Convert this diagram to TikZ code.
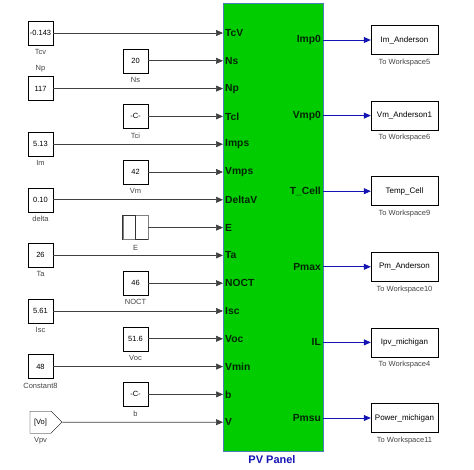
\documentclass[tikz,border=0pt]{standalone}
\usepackage{fontspec}
\setmainfont{Liberation Sans}
\usetikzlibrary{positioning,arrows.meta,shapes.symbols}
\definecolor{slGreen}{HTML}{00CC00}
\definecolor{slBlue}{HTML}{1414B4}
\definecolor{slGray}{HTML}{444444}
\definecolor{slEdge}{HTML}{4A7FB5}

\begin{document}
\begin{tikzpicture}[x=1pt,y=-1pt,font=\fontsize{7.5}{9}\selectfont,
        srcbox/.style={draw=black,fill=white,minimum width=25pt,minimum height=24pt,inner sep=0pt},
        wsbox/.style={draw=black,fill=white,minimum width=67pt,minimum height=29pt,inner sep=0pt,font=\fontsize{8}{10}\selectfont},
        blkname/.style={text=slGray,inner sep=0pt},
        port/.style={font=\fontsize{10.3}{12}\selectfont\bfseries,text=black!85!green,inner sep=2pt},
        sig/.style={draw=black!75,line width=0.7pt,-{Triangle[length=7pt,width=6pt]}},
        outsig/.style={draw=slBlue,line width=0.8pt,-{Triangle[length=7pt,width=6pt]}}]
  \useasboundingbox (0,0) rectangle (474,470);
  \coordinate (colA) at (40.5,0);
  \coordinate (colB) at (135.5,0);
  \coordinate (colW) at (404.5,0);

  \node[draw=slEdge,fill=slGreen,minimum width=100pt,minimum height=448pt,inner sep=0pt] (pv) at (273,227) {};
  \node[font=\fontsize{11}{13}\selectfont\bfseries,text=slBlue,inner sep=0pt] (pvname) at (272,460) {PV Panel};

  % ports of the subsystem
  \foreach \p [count=\i from 0] in {TcV,Ns,Np,Tcl,Imps,Vmps,DeltaV,E,Ta,NOCT,Isc,Voc,Vmin,b,V}{
    \coordinate (in\i) at (223,{33+27.8*\i});
    \node[port,anchor=west] (inlbl\i) at (in\i) {\p};
  }

  % left column
  \node[srcbox] (tcv) at (colA |- in0) {-0.143};
  \node[blkname,below=4pt of tcv] (tcvlbl) {Tcv};
  \node[srcbox] (np) at (colA |- in2) {117};
  \node[blkname,above=4pt of np] (nplbl) {Np};
  \node[srcbox] (im) at (colA |- in4) {5.13};
  \node[blkname,below=4pt of im] (imlbl) {Im};
  \node[srcbox] (delta) at (colA |- in6) {0.10};
  \node[blkname,below=4pt of delta] (deltalbl) {delta};
  \node[srcbox] (ta) at (colA |- in8) {26};
  \node[blkname,below=4pt of ta] (talbl) {Ta};
  \node[srcbox] (isc) at (colA |- in10) {5.61};
  \node[blkname,below=4pt of isc] (isclbl) {Isc};
  \node[srcbox] (const8) at (colA |- in12) {48};
  \node[blkname,below=4pt of const8] (const8lbl) {Constant8};
  \node[draw=black,fill=white,signal,signal to=east,minimum width=32pt,minimum height=22pt,inner sep=1pt] (vpv) at (colA |- in14) {[Vo]};
  \node[blkname,below=4pt of vpv] (vpvlbl) {Vpv};

  % middle column
  \node[srcbox] (ns) at (colB |- in1) {20};
  \node[blkname,below=4pt of ns] (nslbl) {Ns};
  \node[srcbox] (tci) at (colB |- in3) {-C-};
  \node[blkname,below=4pt of tci] (tcilbl) {Tci};
  \node[srcbox] (vm) at (colB |- in5) {42};
  \node[blkname,below=4pt of vm] (vmlbl) {Vm};
  \node[srcbox,draw=black!50] (estep) at (colB |- in7) {};
  \node[blkname,below=5pt of estep] (esteplbl) {E};
  \draw[line width=1.3pt,black!80] (estep.south west) -- (estep.north west)
    -- ([xshift=13pt]estep.north west) -- ([xshift=13pt]estep.south west) -- (estep.south east);
  \node[srcbox] (noct) at (colB |- in9) {46};
  \node[blkname,below=4pt of noct] (noctlbl) {NOCT};
  \node[srcbox] (voc) at (colB |- in11) {51.6};
  \node[blkname,below=4pt of voc] (voclbl) {Voc};
  \node[srcbox] (bconst) at (colB |- in13) {-C-};
  \node[blkname,below=4pt of bconst] (bconstlbl) {b};

  % input signals
  \foreach \s/\i in {tcv/0,ns/1,np/2,tci/3,im/4,vm/5,delta/6,estep/7,ta/8,noct/9,isc/10,voc/11,const8/12,bconst/13,vpv/14}
    \draw[sig] (\s) -- (in\i);

  % outputs to workspace
  \foreach \p/\w/\n [count=\i from 0] in {Imp0/Im\_Anderson/5,Vmp0/Vm\_Anderson1/6,T\_Cell/Temp\_Cell/9,Pmax/Pm\_Anderson/10,IL/Ipv\_michigan/4,Pmsu/Power\_michigan/11}{
    \coordinate (out\i) at (323,{40+75.6*\i});
    \node[port,anchor=east] (outlbl\i) at (out\i) {\p};
    \node[wsbox] (ws\i) at (colW |- out\i) {\w};
    \node[blkname,below=4pt of ws\i] (wslbl\i) {To Workspace\n};
    \draw[outsig] (out\i) -- (ws\i);
  }
\end{tikzpicture}
\end{document}
